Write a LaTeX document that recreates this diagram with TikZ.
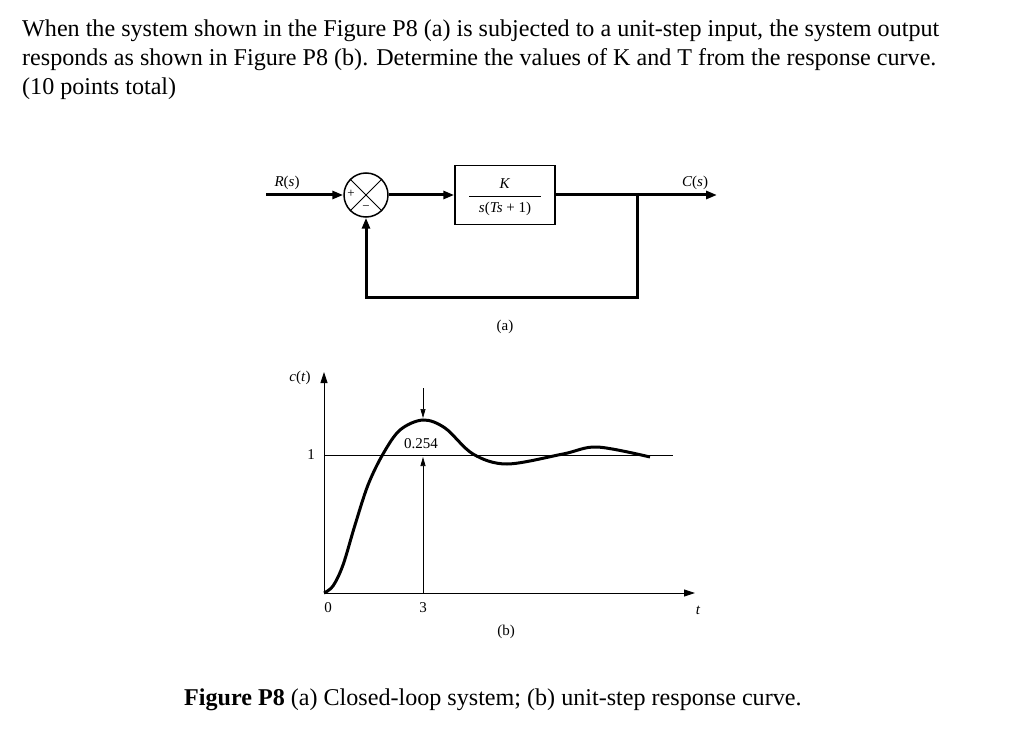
\documentclass[tikz,border=0pt]{standalone}
\usepackage{fontspec}
\setmainfont{Liberation Serif}
\usetikzlibrary{arrows.meta}
\begin{document}
\begin{tikzpicture}[x=1pt,y=-1pt,
  sig/.style={line width=3pt,-{Triangle[length=11pt,width=8pt]}},
  lbl/.style={font=\fontsize{15}{17}\selectfont,inner sep=0pt},
  thin/.style={line width=0.9pt},
  para/.style={anchor=base west,inner sep=0pt,font=\fontsize{24.1}{28}\selectfont}]
\useasboundingbox (0,0) rectangle (1024,751);
\node[para] (l1) at (22,37) {When the system shown in the Figure P8 (a) is subjected to a unit-step input, the system output};
\node[para] (l2) at (22,66) {responds as shown in Figure P8 (b). Determine the values of K and T from the response curve.};
\node[para] (l3) at (22,95) {(10 points total)};
% block diagram
\coordinate (rin) at (266,195);
\node[draw,circle,line width=1.5pt,minimum size=44pt,inner sep=0pt] (sum) at (366,195) {};
\draw[thin] (sum.north west)--(sum.south east) (sum.north east)--(sum.south west);
\node[lbl,font=\fontsize{13}{14}\selectfont] (plus) at (351,194) {+};
\node[lbl,font=\fontsize{13}{14}\selectfont] (minus) at (366,208) {\textminus};
\node[draw,line width=1.5pt,minimum width=100pt,minimum height=59pt,inner sep=0pt] (G) at (505,195) {};
\node[lbl] (num) at (505,184) {\textit{K}};
\draw[thin] (469,196)--(541,196);
\node[lbl] (den) at (505,209) {\textit{s}(\textit{Ts} + 1)};
\coordinate (out) at (717,195);
\coordinate (br) at (637,195);
\coordinate (bl) at (637,297);
\coordinate (bb) at (366,297);
\node[lbl,anchor=base] (R) at (287,187) {\textit{R}(\textit{s})};
\node[lbl,anchor=base] (C) at (695,187) {\textit{C}(\textit{s})};
\draw[sig] (rin)--(sum.west);
\draw[sig] (sum.east)--(G.west);
\draw[sig] (G.east)--(out);
\draw[sig] (br)--(bl)--(bb)--(sum.south);
\node[lbl] (a) at (505,327) {(a)};
% graph
\coordinate (o) at (324,593);
\coordinate (ytop) at (324,372);
\coordinate (xend) at (695,593);
\draw[thin,-{Triangle[length=11pt,width=7pt]}] (o)--(ytop);
\draw[thin,-{Triangle[length=11pt,width=7pt]}] (o)--(xend);
\coordinate (h1) at (324,455);
\coordinate (h2) at (673,455);
\draw[line width=0.6pt] (h1)--(h2);
\coordinate (pk) at (423,418);
\coordinate (pkt) at (423,388);
\coordinate (b3) at (423,593);
\coordinate (u1) at (423,457);
\draw[line width=0.7pt,-{Triangle[length=9pt,width=5pt]}] (pkt)--(pk);
\draw[line width=0.7pt,-{Triangle[length=9pt,width=5pt]}] (b3)--(u1);
\draw[line width=3pt] plot[smooth,tension=0.55] coordinates {(324,593) (333,586) (343,565) (355,525) (368,485) (383,454) (400,430) (423,420) (445,428) (473,454) (507,464) (563,454) (597,447) (650,457)};
\node[lbl] (ct) at (300,378) {\textit{c}(\textit{t})};
\node[lbl] (one) at (311,455) {1};
\node[lbl,fill=white,inner sep=1pt] (v) at (421,444) {0.254};
\node[lbl] (zero) at (328,608) {0};
\node[lbl] (three) at (423,608) {3};
\node[lbl] (t) at (698,610) {\textit{t}};
\node[lbl] (b) at (506,632) {(b)};
\node[para] (cap) at (184,705) {\textbf{Figure P8} (a) Closed-loop system; (b) unit-step response curve.};
\end{tikzpicture}
\end{document}
